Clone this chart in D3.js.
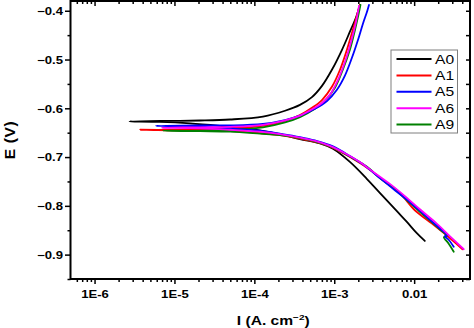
<!DOCTYPE html>
<html><head><meta charset="utf-8">
<script src="https://cdn.jsdelivr.net/npm/d3@7"></script>
<style>body{margin:0;background:#fff}svg{display:block}text{font-family:"Liberation Sans",Arial,sans-serif}</style>
</head><body><svg id="c" width="474" height="328"></svg>
<script>
const seriesNames = ["A0", "A1", "A5", "A6", "A9"];
const seriesColors = ["#000000", "#ff0000", "#0000ff", "#ff00ff", "#008000"];

// A0
const a0I = [1.36e-2,1.08e-2,8.11e-3,6.08e-3,4.06e-3,2.57e-3,1.57e-3,9.64e-4,6.62e-4,3.72e-4,2.09e-4,8.83e-5,3.72e-5,1.57e-5,6.62e-6,2.74e-6,
  6.62e-6,2.09e-5,4.97e-5,1.28e-4,2.42e-4,3.72e-4,5.26e-4,7.02e-4,9.35e-4,1.25e-3,1.57e-3,1.87e-3,2.09e-3];
const a0E = [-0.872,-0.856,-0.833,-0.811,-0.780,-0.745,-0.710,-0.683,-0.672,-0.663,-0.653,-0.642,-0.636,-0.631,-0.628,-0.627,
  -0.626,-0.625,-0.623,-0.617,-0.605,-0.593,-0.577,-0.554,-0.521,-0.480,-0.443,-0.414,-0.388];
// A1
const a1I = [4.03e-2,2.79e-2,1.57e-2,1.02e-2,6.62e-3,4.06e-3,2.57e-3,1.57e-3,9.64e-4,5.74e-4,3.72e-4,2.09e-4,1.18e-4,4.97e-5,2.09e-5,8.83e-6,3.73e-6,
  8.83e-6,2.09e-5,4.97e-5,1.28e-4,2.42e-4,3.72e-4,5.26e-4,7.02e-4,9.35e-4,1.18e-3,1.44e-3,1.71e-3,1.98e-3,2.09e-3];
const a1E = [-0.889,-0.866,-0.833,-0.809,-0.774,-0.747,-0.722,-0.700,-0.681,-0.669,-0.662,-0.655,-0.651,-0.647,-0.646,-0.645,-0.644,
  -0.644,-0.643,-0.641,-0.636,-0.626,-0.614,-0.599,-0.583,-0.556,-0.521,-0.480,-0.439,-0.402,-0.388];
// A5
const a5I = [3.13e-2,2.72e-2,2.42e-2,2.57e-2,2.09e-2,1.36e-2,8.83e-3,5.74e-3,3.72e-3,2.42e-3,1.57e-3,9.64e-4,5.74e-4,3.72e-4,2.09e-4,1.18e-4,4.97e-5,2.09e-5,5.85e-6,
  2.09e-5,4.97e-5,1.28e-4,2.42e-4,3.72e-4,5.74e-4,8.11e-4,1.08e-3,1.36e-3,1.66e-3,1.98e-3,2.28e-3,2.57e-3,2.72e-3];
const a5E = [-0.884,-0.870,-0.862,-0.860,-0.846,-0.819,-0.792,-0.768,-0.743,-0.718,-0.698,-0.678,-0.666,-0.659,-0.652,-0.646,-0.641,-0.638,-0.636,
  -0.635,-0.635,-0.632,-0.624,-0.615,-0.601,-0.585,-0.562,-0.533,-0.497,-0.460,-0.427,-0.402,-0.388];
// A6
const a6I = [4.18e-2,2.79e-2,1.82e-2,1.18e-2,7.65e-3,4.97e-3,3.23e-3,2.09e-3,1.36e-3,8.83e-4,5.74e-4,3.72e-4,2.09e-4,1.18e-4,4.97e-5,2.09e-5,6.96e-6,
  2.09e-5,4.97e-5,1.28e-4,2.42e-4,3.72e-4,5.42e-4,7.02e-4,8.83e-4,1.11e-3,1.36e-3,1.62e-3,1.87e-3,2.04e-3];
const a6E = [-0.889,-0.862,-0.833,-0.807,-0.780,-0.755,-0.733,-0.710,-0.692,-0.677,-0.667,-0.660,-0.653,-0.648,-0.644,-0.641,-0.640,
  -0.639,-0.638,-0.634,-0.625,-0.615,-0.601,-0.589,-0.572,-0.542,-0.505,-0.464,-0.423,-0.390];
// A9
const a9I = [3.13e-2,2.72e-2,2.35e-2,2.57e-2,2.09e-2,1.36e-2,8.83e-3,5.74e-3,3.72e-3,2.57e-3,1.57e-3,9.64e-4,5.74e-4,3.72e-4,2.09e-4,1.18e-4,4.97e-5,2.09e-5,7.22e-6,
  2.09e-5,4.97e-5,1.28e-4,2.42e-4,3.72e-4,5.74e-4,7.65e-4,1.02e-3,1.28e-3,1.57e-3,1.82e-3,2.01e-3,2.13e-3];
const a9E = [-0.894,-0.878,-0.864,-0.862,-0.848,-0.821,-0.794,-0.766,-0.743,-0.720,-0.699,-0.680,-0.668,-0.661,-0.655,-0.652,-0.648,-0.647,-0.646,
  -0.646,-0.644,-0.639,-0.629,-0.618,-0.601,-0.585,-0.558,-0.521,-0.480,-0.439,-0.408,-0.388];

const xTickValues = [1e-6, 1e-5, 1e-4, 1e-3, 1e-2];
const xTickLabels = ["1E-6", "1E-5", "1E-4", "1E-3", "0.01"];
const yTickValues = [-0.4, -0.5, -0.6, -0.7, -0.8, -0.9];
const yTickLabels = ["\u22120.4", "\u22120.5", "\u22120.6", "\u22120.7", "\u22120.8", "\u22120.9"];
const xTitle = "I (A. cm";
const xTitleSup = "\u22122";
const yTitle = "E (V)";

const seriesI = [a0I, a1I, a5I, a6I, a9I];
const seriesE = [a0E, a1E, a5E, a6E, a9E];

const pL = 70.5, pR = 470, pT = 1, pB = 279;
const SX = 1.25; // horizontal stretch of the text in the reference
const svg = d3.select("#c");

const x = d3.scaleLog().domain([5e-7, 0.05]).range([pL, pR]);
const y = d3.scaleLinear().domain([-0.95, -0.38]).range([pB, pT]);

// minor ticks
const xMinor = [];
for (let e = -7; e <= -1; e++) for (let m = 2; m <= 9; m++) {
  const v = m * Math.pow(10, e);
  if (v > 5e-7 && v < 0.05) xMinor.push(v);
}
const yMinor = [-0.45, -0.55, -0.65, -0.75, -0.85, -0.95];

function styleAxis(g) {
  g.select(".domain").remove();
  g.selectAll("line").attr("stroke", "#000").attr("stroke-width", 1.5);
}
// bottom
svg.append("g").attr("transform", `translate(0,${pB})`)
  .call(d3.axisBottom(x).tickValues(xMinor).tickSize(3).tickFormat("")).call(styleAxis);
const gb = svg.append("g").attr("transform", `translate(0,${pB})`)
  .call(d3.axisBottom(x).tickValues(xTickValues).tickSize(5).tickFormat((d, i) => xTickLabels[i])).call(styleAxis);
gb.selectAll("text").attr("y", 0).attr("dy", 0)
  .attr("transform", `translate(0,19.3) scale(${SX},1)`)
  .style("font-size", "10.5px").style("font-weight", "bold").attr("fill", "#000");
// top (inward)
svg.append("g").attr("transform", `translate(0,${pT})`)
  .call(d3.axisTop(x).tickValues(xMinor).tickSize(-3).tickFormat("")).call(styleAxis);
svg.append("g").attr("transform", `translate(0,${pT})`)
  .call(d3.axisTop(x).tickValues(xTickValues).tickSize(-5).tickFormat("")).call(styleAxis);
// left
svg.append("g").attr("transform", `translate(${pL},0)`)
  .call(d3.axisLeft(y).tickValues(yMinor).tickSize(3).tickFormat("")).call(styleAxis);
const gl = svg.append("g").attr("transform", `translate(${pL},0)`)
  .call(d3.axisLeft(y).tickValues(yTickValues).tickSize(5.5).tickFormat((d, i) => yTickLabels[i])).call(styleAxis);
gl.selectAll("text").attr("x", 0).attr("dy", "0.36em")
  .attr("transform", `translate(-7.5,0) scale(${SX},1)`)
  .style("font-size", "10.5px").style("font-weight", "bold").attr("fill", "#000");
// right (inward)
svg.append("g").attr("transform", `translate(${pR},0)`)
  .call(d3.axisRight(y).tickValues(yMinor).tickSize(-4).tickFormat("")).call(styleAxis);
svg.append("g").attr("transform", `translate(${pR},0)`)
  .call(d3.axisRight(y).tickValues(yTickValues).tickSize(-4).tickFormat("")).call(styleAxis);

// frame
svg.append("rect").attr("x", pL).attr("y", pT).attr("width", pR - pL).attr("height", pB - pT)
  .attr("fill", "none").attr("stroke", "#000").attr("stroke-width", 2);

// curves
svg.append("defs").append("clipPath").attr("id", "clip")
  .append("rect").attr("x", pL).attr("y", pT).attr("width", pR - pL).attr("height", pB - pT);
const drawOrder = [0, 1, 4, 2, 3];
const gc = svg.append("g").attr("clip-path", "url(#clip)");
const line = d3.line().x(d => x(d[0])).y(d => y(d[1])).curve(d3.curveCatmullRom.alpha(0.5));
drawOrder.forEach(k => {
  const pts = seriesI[k].map((v, i) => [v, seriesE[k][i]]);
  gc.append("path").datum(pts).attr("d", line)
    .attr("fill", "none").attr("stroke", seriesColors[k]).attr("stroke-width", 1.8)
    .attr("stroke-linejoin", "round").attr("stroke-linecap", "round");
});

// legend
const lg = svg.append("g");
lg.append("rect").attr("x", 391).attr("y", 50).attr("width", 66.5).attr("height", 83)
  .attr("fill", "#fff").attr("stroke", "#7f7f7f").attr("stroke-width", 1);
seriesNames.forEach((n, i) => {
  const yy = 59 + i * 16.4;
  lg.append("line").attr("x1", 396.5).attr("x2", 431.5).attr("y1", yy).attr("y2", yy)
    .attr("stroke", seriesColors[i]).attr("stroke-width", 2);
  lg.append("text").attr("transform", `translate(435,${yy + 4.5}) scale(${SX},1)`)
    .style("font-size", "12.5px").attr("fill", "#000").text(n);
});

// titles
const xt = svg.append("text").attr("transform", `translate(${(pL + pR) / 2 + 3},325) scale(${SX},1)`)
  .attr("text-anchor", "middle").style("font-size", "12.5px").style("font-weight", "bold").attr("fill", "#000");
xt.append("tspan").text(xTitle);
xt.append("tspan").attr("dy", -5).style("font-size", "8px").text(xTitleSup);
xt.append("tspan").attr("dy", 5).text(")");
svg.append("text").attr("transform", `translate(14.5,${(pT + pB) / 2}) rotate(-90)`)
  .attr("text-anchor", "middle").style("font-size", "15.5px").style("letter-spacing", "0.6px")
  .style("font-weight", "bold").attr("fill", "#000").text(yTitle);
</script></body></html>
